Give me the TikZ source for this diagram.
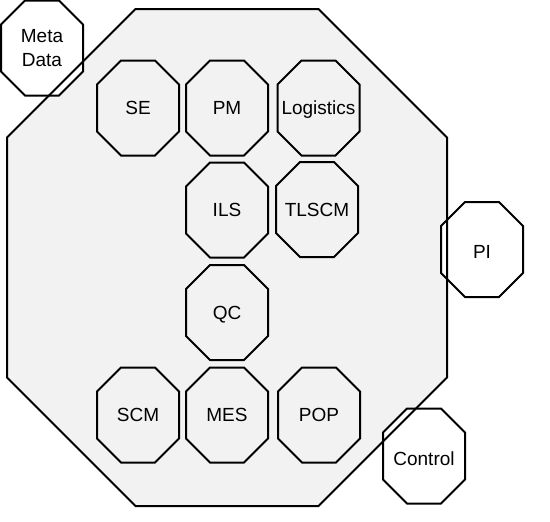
\documentclass[tikz,border=0pt]{standalone}
\usepackage{fontspec}
\setmainfont{Liberation Sans}
\definecolor{panelgray}{HTML}{F2F2F2}
\pgfdeclarelayer{bglayer}
\pgfdeclarelayer{midlayer}
\pgfsetlayers{bglayer,midlayer,main}
\newcommand\octpath[2]{([xshift=#2]#1.north west) -- ([xshift=-#2]#1.north east)
  -- ([yshift=-#2]#1.north east) -- ([yshift=#2]#1.south east)
  -- ([xshift=-#2]#1.south east) -- ([xshift=#2]#1.south west)
  -- ([yshift=#2]#1.south west) -- ([yshift=-#2]#1.north west) -- cycle}
\begin{document}
\begin{tikzpicture}[x=1pt,y=-1pt,
  modbox/.style={rectangle, minimum width=82pt, minimum height=95pt,
    inner sep=0pt, outer sep=0pt, text depth=0pt,
    font=\fontsize{19}{24}\selectfont, align=center},
  lowtext/.style={text height=18.6pt},
  framebox/.style={rectangle, minimum width=440pt, minimum height=497pt,
    inner sep=0pt, outer sep=0pt},
  octline/.style={draw=black, line width=2pt, line join=miter}]
\useasboundingbox (0,0) rectangle (550,522);
\node[framebox] (frame) at (227,257.5) {};
% inner modules
\node[modbox] (se)   at (138,108)   {SE};
\node[modbox] (pm)   at (227,108)   {PM};
\node[modbox] (log)  at (318.5,108) {Logistics};
\node[modbox] (ils)  at (227,210)   {ILS};
\node[modbox] (tls)  at (317,209.5) {TLSCM};
\node[modbox] (qc)   at (227,312.5) {QC};
\node[modbox] (scm)  at (138,415)   {SCM};
\node[modbox] (mes)  at (227,415)   {MES};
\node[modbox] (pop)  at (319,415)   {POP};
% outer modules
\node[modbox] (meta) at (42,48)     {Meta\\Data};
\node[modbox, lowtext] (pi)   at (482,249.5) {PI};
\node[modbox, lowtext] (ctrl) at (424,456)   {Control};
% frame fill
\begin{pgfonlayer}{bglayer}
  \fill[panelgray] \octpath{frame}{128.5pt};
\end{pgfonlayer}
% inner octagons
\foreach \n in {se,pm,log,ils,tls,qc,scm,mes,pop}
  \draw[octline] \octpath{\n}{24pt};
% outer octagons (white, over the panel fill)
\begin{pgfonlayer}{midlayer}
  \foreach \n in {meta,pi,ctrl}
    \draw[octline, fill=white] \octpath{\n}{24pt};
\end{pgfonlayer}
% frame outline on top
\draw[octline] \octpath{frame}{128.5pt};
\end{tikzpicture}
\end{document}
